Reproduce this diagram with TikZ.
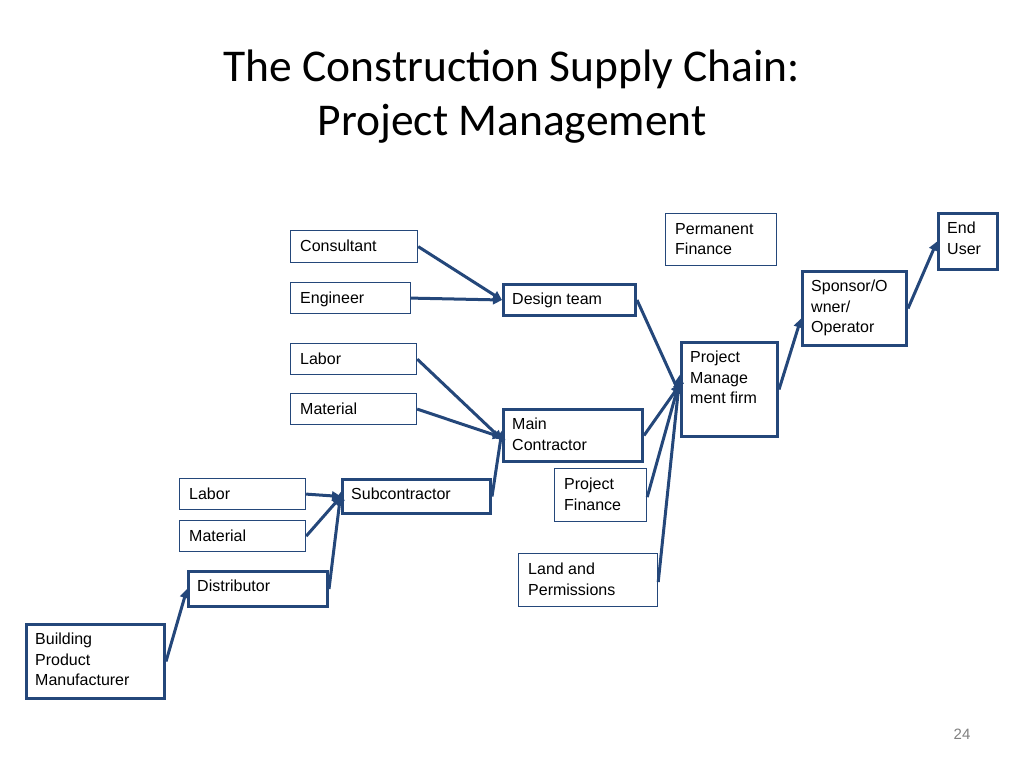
\documentclass[tikz,border=0pt]{standalone}
\usepackage{fontspec}
\setmainfont{Liberation Sans}
\newfontfamily\titlefont{Carlito}
\usetikzlibrary{arrows.meta}
\definecolor{navy}{HTML}{24477A}
\tikzset{
 bx/.style={draw=navy,line width=1.2pt,anchor=north west,inner sep=0pt},
 tk/.style={bx,line width=3pt},
 ar/.style={draw=navy,line width=3pt,-{Triangle[length=9pt,width=9pt]}}
}
\begin{document}
\begin{tikzpicture}[x=1pt,y=-1pt]
\useasboundingbox (0,0) rectangle (1024,768);
\node[font=\titlefont\fontsize{45.5}{54}\selectfont,align=center] (title) at (512,97) {The Construction Supply Chain:\\Project Management};
\node[text=gray,font=\fontsize{15}{18}\selectfont] (pg) at (962,734) {24};
\def\B#1#2#3#4#5#6#7{\node[#1,minimum width=#4-#2,minimum height=#5-#3] (#6) at (#2,#3) {};
 \node[anchor=north west,inner sep=0pt,align=left,font=\fontsize{16}{20.5}\selectfont] (#6t) at (#2+10,#3+10) {#7};}
\B{bx}{290}{230}{417}{262}{cons}{Consultant}
\B{bx}{290}{282}{410}{313}{eng}{Engineer}
\B{tk}{502}{283}{634}{314}{des}{Design team}
\B{bx}{290}{343}{416}{374}{lab1}{Labor}
\B{bx}{290}{393}{416}{424}{mat1}{Material}
\B{tk}{502}{408}{641}{460}{main}{Main\\Contractor}
\B{bx}{665}{213}{776}{265}{perm}{Permanent\\Finance}
\B{tk}{937}{212}{996}{268}{end}{End\\User}
\B{tk}{801}{270}{905}{344}{spon}{Sponsor/O\\wner/\\Operator}
\B{tk}{680}{341}{776}{435}{pm}{Project\\Manage\\ment firm}
\B{bx}{554}{468}{646}{521}{pf}{Project\\Finance}
\B{bx}{518}{553}{657}{606}{land}{Land and\\Permissions}
\B{bx}{179}{478}{305}{509}{lab2}{Labor}
\B{bx}{179}{520}{305}{551}{mat2}{Material}
\B{tk}{341}{478}{489}{512}{sub}{Subcontractor}
\B{tk}{187}{570}{326}{605}{dist}{Distributor}
\B{tk}{25}{623}{163}{697}{bpm}{Building\\Product\\Manufacturer}
\draw[ar] (cons.east) -- (des.west);
\draw[ar] (eng.east) -- (des.west);
\draw[ar] (des.east) -- ([yshift=-5]pm.west);
\draw[ar] (lab1.east) -- ([yshift=-4]main.west);
\draw[ar] (mat1.east) -- ([yshift=-2]main.west);
\draw[ar] (main.east) -- ([yshift=5]pm.west);
\draw[ar] ([yshift=-2]pf.east) -- ([yshift=10]pm.west);
\draw[ar] ([yshift=-2]land.east) -- ([yshift=15]pm.west);
\draw[ar] (pm.east) -- ([yshift=-10]spon.west);
\draw[ar] (spon.east) -- (end.west);
\draw[ar] (sub.east) -- ([yshift=5]main.west);
\draw[ar] (lab2.east) -- (sub.west);
\draw[ar] (mat2.east) -- (sub.west);
\draw[ar] (dist.east) -- ([yshift=5]sub.west);
\draw[ar] (bpm.east) -- (dist.west);
\end{tikzpicture}
\end{document}
